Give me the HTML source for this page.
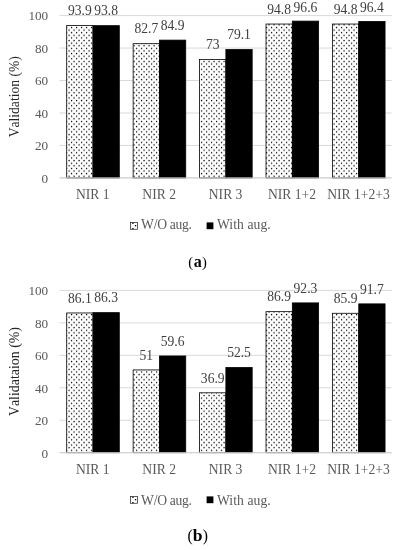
<!DOCTYPE html>
<html><head><meta charset="utf-8"><title>Validation charts</title>
<style>
html,body{margin:0;padding:0;background:#fff;}
svg{display:block;font-family:"Liberation Serif",serif;}
.t{font-size:13.6px;fill:#595959;}
.k{font-size:13.2px;fill:#595959;}
.d{font-size:13.6px;fill:#404040;}
.yt{fill:#262626;font-kerning:none;}
.c{fill:#000;}
</style></head><body>
<svg width="397" height="550" viewBox="0 0 397 550">
<defs>
<pattern id="dots" width="5" height="5.22" patternUnits="userSpaceOnUse">
<rect width="5" height="5.22" fill="#fff"/>
<rect x="0.95" y="0.75" width="1.25" height="1.25" fill="#000"/>
<rect x="3.45" y="3.36" width="1.25" height="1.25" fill="#000"/>
</pattern>
</defs>
<rect width="397" height="550" fill="#fff"/>
<line x1="59.5" x2="391.7" y1="15.60" y2="15.60" stroke="#d9d9d9" stroke-width="1"/>
<text x="48.2" y="20.40" text-anchor="end" class="k">100</text>
<line x1="59.5" x2="391.7" y1="48.06" y2="48.06" stroke="#d9d9d9" stroke-width="1"/>
<text x="48.2" y="52.86" text-anchor="end" class="k">80</text>
<line x1="59.5" x2="391.7" y1="80.52" y2="80.52" stroke="#d9d9d9" stroke-width="1"/>
<text x="48.2" y="85.32" text-anchor="end" class="k">60</text>
<line x1="59.5" x2="391.7" y1="112.98" y2="112.98" stroke="#d9d9d9" stroke-width="1"/>
<text x="48.2" y="117.78" text-anchor="end" class="k">40</text>
<line x1="59.5" x2="391.7" y1="145.44" y2="145.44" stroke="#d9d9d9" stroke-width="1"/>
<text x="48.2" y="150.24" text-anchor="end" class="k">20</text>
<line x1="59.5" x2="391.7" y1="177.90" y2="177.90" stroke="#d9d9d9" stroke-width="1"/>
<text x="48.2" y="182.70" text-anchor="end" class="k">0</text>
<rect x="66.70" y="25.50" width="26.3" height="152.40" fill="url(#dots)" stroke="#000" stroke-width="0.8"/>
<rect x="93.00" y="25.66" width="26.3" height="152.24" fill="#000" stroke="#000" stroke-width="0.8"/>
<text x="79.85" y="15.20" text-anchor="middle" class="d">93.9</text>
<text x="106.15" y="15.36" text-anchor="middle" class="d">93.8</text>
<text x="92.72" y="198.70" text-anchor="middle" class="t">NIR 1</text>
<rect x="133.14" y="43.68" width="26.3" height="134.22" fill="url(#dots)" stroke="#000" stroke-width="0.8"/>
<rect x="159.44" y="40.11" width="26.3" height="137.79" fill="#000" stroke="#000" stroke-width="0.8"/>
<text x="146.29" y="33.38" text-anchor="middle" class="d">82.7</text>
<text x="172.59" y="29.81" text-anchor="middle" class="d">84.9</text>
<text x="159.16" y="198.70" text-anchor="middle" class="t">NIR 2</text>
<rect x="199.58" y="59.42" width="26.3" height="118.48" fill="url(#dots)" stroke="#000" stroke-width="0.8"/>
<rect x="225.88" y="49.52" width="26.3" height="128.38" fill="#000" stroke="#000" stroke-width="0.8"/>
<text x="212.73" y="49.12" text-anchor="middle" class="d">73</text>
<text x="239.03" y="39.22" text-anchor="middle" class="d">79.1</text>
<text x="225.60" y="198.70" text-anchor="middle" class="t">NIR 3</text>
<rect x="266.02" y="24.04" width="26.3" height="153.86" fill="url(#dots)" stroke="#000" stroke-width="0.8"/>
<rect x="292.32" y="21.12" width="26.3" height="156.78" fill="#000" stroke="#000" stroke-width="0.8"/>
<text x="279.17" y="13.74" text-anchor="middle" class="d">94.8</text>
<text x="305.47" y="12.20" text-anchor="middle" class="d">96.6</text>
<text x="292.04" y="198.70" text-anchor="middle" class="t">NIR 1+2</text>
<rect x="332.46" y="24.04" width="26.3" height="153.86" fill="url(#dots)" stroke="#000" stroke-width="0.8"/>
<rect x="358.76" y="21.44" width="26.3" height="156.46" fill="#000" stroke="#000" stroke-width="0.8"/>
<text x="345.61" y="13.74" text-anchor="middle" class="d">94.8</text>
<text x="371.91" y="12.20" text-anchor="middle" class="d">96.4</text>
<text x="358.48" y="198.70" text-anchor="middle" class="t">NIR 1+2+3</text>
<line x1="59.5" x2="391.7" y1="177.90" y2="177.90" stroke="#d0d0d0" stroke-width="1"/>
<text transform="translate(19.2,96.75) rotate(-90)" text-anchor="middle" class="yt" font-size="13.6">Validation (%)</text>
<rect x="130.5" y="222.55" width="6.9" height="6.7" fill="#fff" stroke="#1a1a1a" stroke-width="0.7"/>
<rect x="134.9" y="225.00" width="1.3" height="1.3" fill="#000"/>
<rect x="132.2" y="222.80" width="1.4" height="1.1" fill="#000"/>
<rect x="132.2" y="228.10" width="1.4" height="1.1" fill="#000"/>
<text x="141.1" y="229.30" class="t" style="letter-spacing:-0.28px">W/O aug.</text>
<rect x="206.6" y="222.40" width="6.8" height="6.8" fill="#000"/>
<text x="217.0" y="229.30" class="t" style="letter-spacing:0.08px">With aug.</text>
<text x="188.3" y="266.90" class="c" font-size="14.6">(</text>
<text x="193.8" y="266.70" class="c" font-size="16" font-weight="bold">a</text>
<text x="202.1" y="266.90" class="c" font-size="14.6">)</text>
<line x1="59.5" x2="391.7" y1="290.40" y2="290.40" stroke="#d9d9d9" stroke-width="1"/>
<text x="48.2" y="295.20" text-anchor="end" class="k">100</text>
<line x1="59.5" x2="391.7" y1="322.86" y2="322.86" stroke="#d9d9d9" stroke-width="1"/>
<text x="48.2" y="327.66" text-anchor="end" class="k">80</text>
<line x1="59.5" x2="391.7" y1="355.32" y2="355.32" stroke="#d9d9d9" stroke-width="1"/>
<text x="48.2" y="360.12" text-anchor="end" class="k">60</text>
<line x1="59.5" x2="391.7" y1="387.78" y2="387.78" stroke="#d9d9d9" stroke-width="1"/>
<text x="48.2" y="392.58" text-anchor="end" class="k">40</text>
<line x1="59.5" x2="391.7" y1="420.24" y2="420.24" stroke="#d9d9d9" stroke-width="1"/>
<text x="48.2" y="425.04" text-anchor="end" class="k">20</text>
<line x1="59.5" x2="391.7" y1="452.70" y2="452.70" stroke="#d9d9d9" stroke-width="1"/>
<text x="48.2" y="457.50" text-anchor="end" class="k">0</text>
<rect x="66.70" y="312.96" width="26.3" height="139.74" fill="url(#dots)" stroke="#000" stroke-width="0.8"/>
<rect x="93.00" y="312.64" width="26.3" height="140.06" fill="#000" stroke="#000" stroke-width="0.8"/>
<text x="79.85" y="302.66" text-anchor="middle" class="d">86.1</text>
<text x="106.15" y="302.34" text-anchor="middle" class="d">86.3</text>
<text x="92.72" y="474.30" text-anchor="middle" class="t">NIR 1</text>
<rect x="133.14" y="369.93" width="26.3" height="82.77" fill="url(#dots)" stroke="#000" stroke-width="0.8"/>
<rect x="159.44" y="355.97" width="26.3" height="96.73" fill="#000" stroke="#000" stroke-width="0.8"/>
<text x="146.29" y="359.63" text-anchor="middle" class="d">51</text>
<text x="172.59" y="345.67" text-anchor="middle" class="d">59.6</text>
<text x="159.16" y="474.30" text-anchor="middle" class="t">NIR 2</text>
<rect x="199.58" y="392.81" width="26.3" height="59.89" fill="url(#dots)" stroke="#000" stroke-width="0.8"/>
<rect x="225.88" y="367.49" width="26.3" height="85.21" fill="#000" stroke="#000" stroke-width="0.8"/>
<text x="212.73" y="382.51" text-anchor="middle" class="d">36.9</text>
<text x="239.03" y="357.19" text-anchor="middle" class="d">52.5</text>
<text x="225.60" y="474.30" text-anchor="middle" class="t">NIR 3</text>
<rect x="266.02" y="311.66" width="26.3" height="141.04" fill="url(#dots)" stroke="#000" stroke-width="0.8"/>
<rect x="292.32" y="302.90" width="26.3" height="149.80" fill="#000" stroke="#000" stroke-width="0.8"/>
<text x="279.17" y="301.36" text-anchor="middle" class="d">86.9</text>
<text x="305.47" y="292.60" text-anchor="middle" class="d">92.3</text>
<text x="292.04" y="474.30" text-anchor="middle" class="t">NIR 1+2</text>
<rect x="332.46" y="313.28" width="26.3" height="139.42" fill="url(#dots)" stroke="#000" stroke-width="0.8"/>
<rect x="358.76" y="303.87" width="26.3" height="148.83" fill="#000" stroke="#000" stroke-width="0.8"/>
<text x="345.61" y="302.98" text-anchor="middle" class="d">85.9</text>
<text x="371.91" y="293.57" text-anchor="middle" class="d">91.7</text>
<text x="358.48" y="474.30" text-anchor="middle" class="t">NIR 1+2+3</text>
<line x1="59.5" x2="391.7" y1="452.70" y2="452.70" stroke="#d0d0d0" stroke-width="1"/>
<text transform="translate(19.2,371.55) rotate(-90)" text-anchor="middle" class="yt" font-size="13.9">Validataion (%)</text>
<rect x="130.5" y="496.55" width="6.9" height="6.7" fill="#fff" stroke="#1a1a1a" stroke-width="0.7"/>
<rect x="134.9" y="499.00" width="1.3" height="1.3" fill="#000"/>
<rect x="132.2" y="496.80" width="1.4" height="1.1" fill="#000"/>
<rect x="132.2" y="502.10" width="1.4" height="1.1" fill="#000"/>
<text x="141.1" y="504.70" class="t" style="letter-spacing:-0.28px">W/O aug.</text>
<rect x="206.6" y="496.40" width="6.8" height="6.8" fill="#000"/>
<text x="217.0" y="504.70" class="t" style="letter-spacing:0.08px">With aug.</text>
<text x="187.6" y="541.00" class="c" font-size="15.7">(</text>
<text x="192.8" y="540.50" class="c" font-size="17.6" font-weight="bold">b</text>
<text x="202.8" y="541.00" class="c" font-size="15.7">)</text>
</svg>
</body></html>
